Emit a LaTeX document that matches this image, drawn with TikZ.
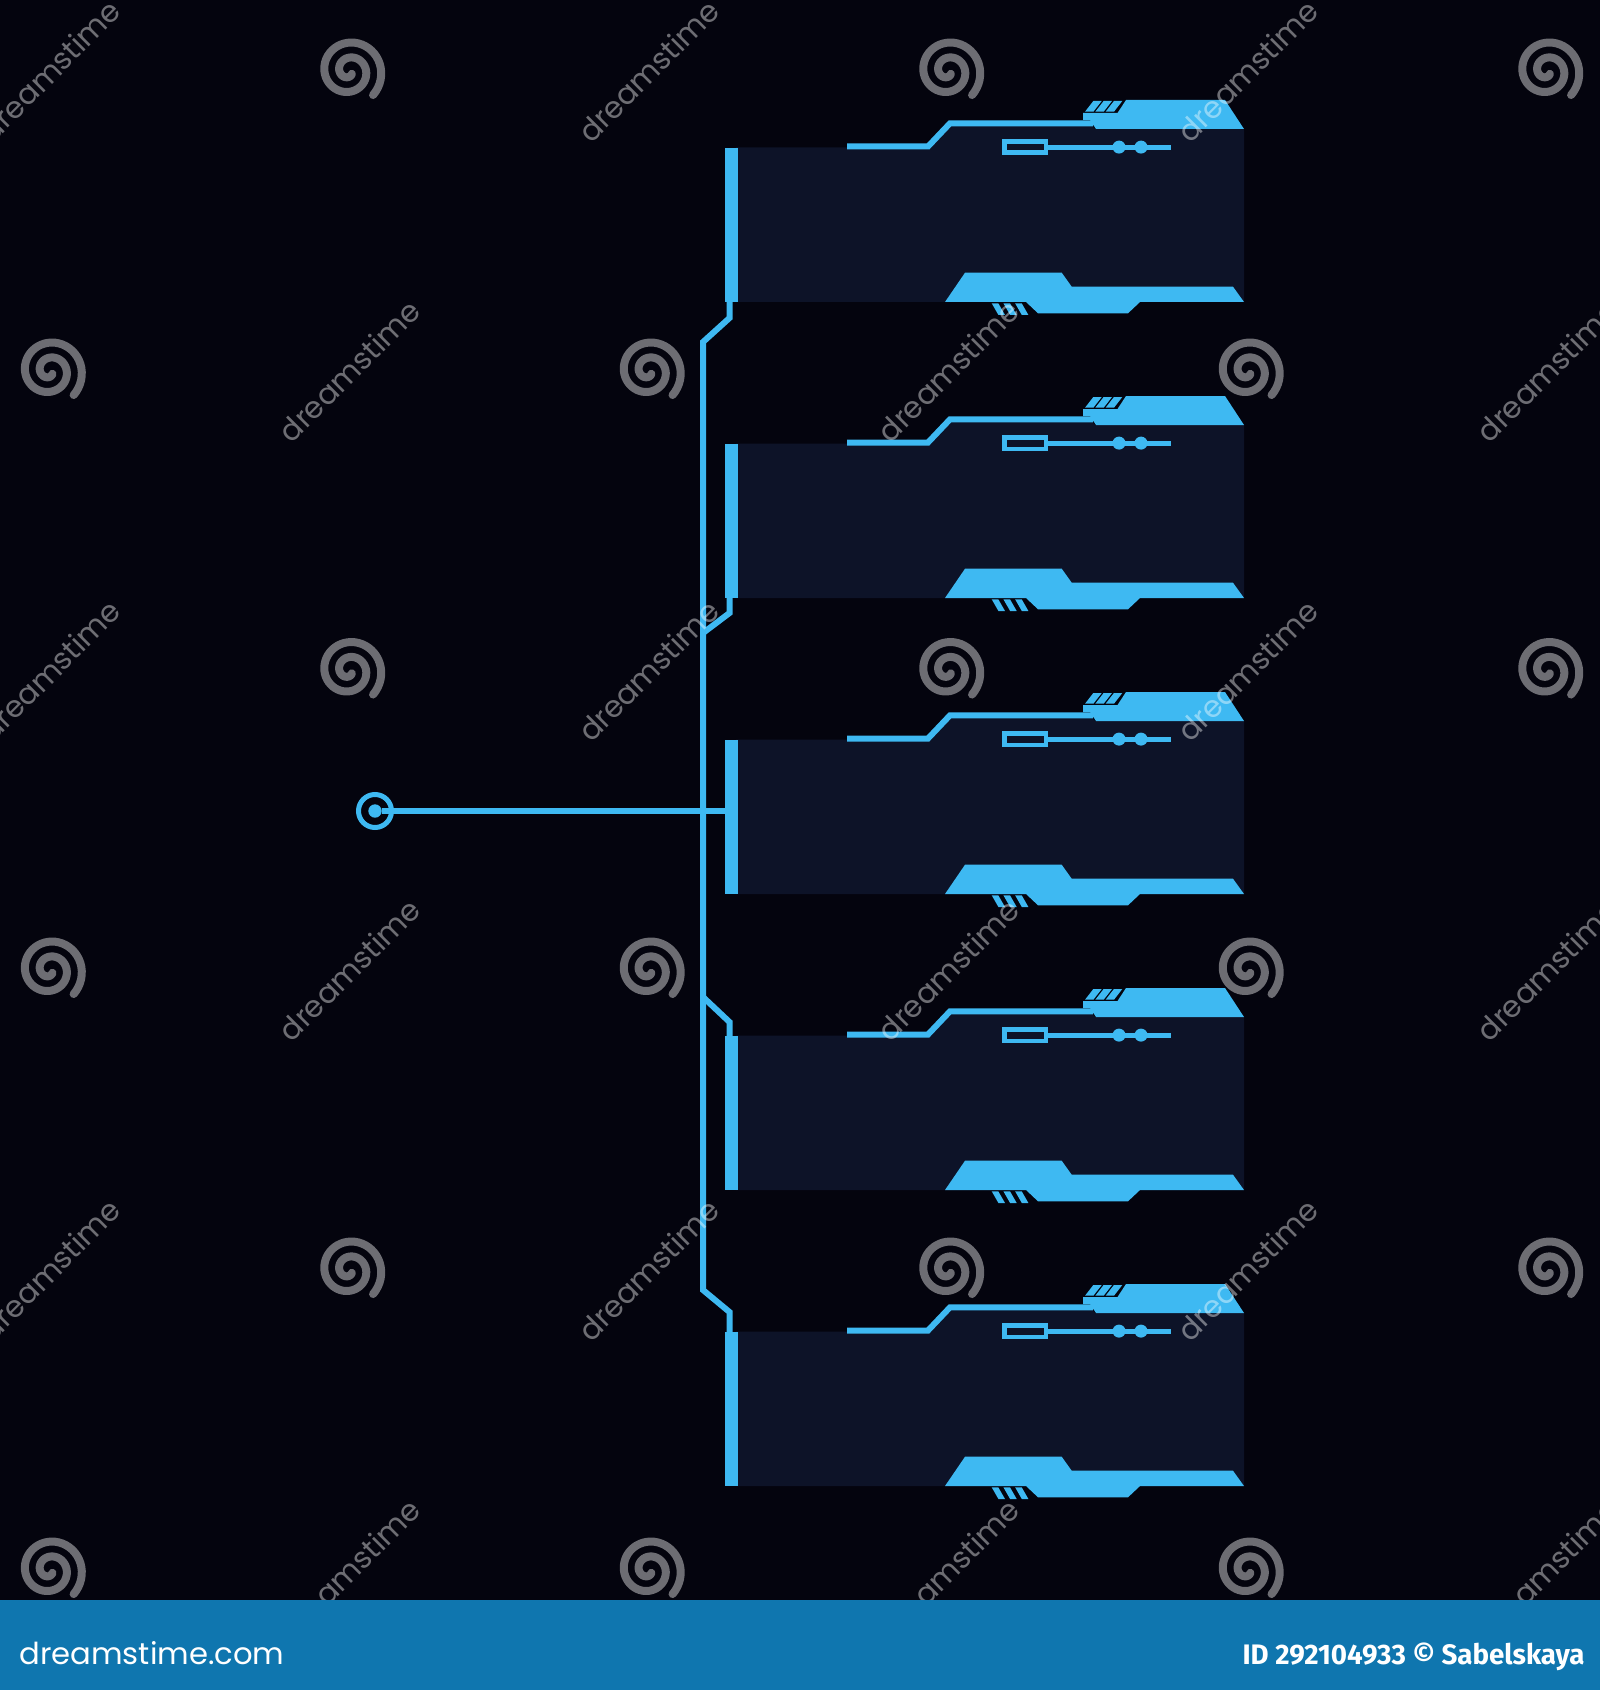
\documentclass[tikz,border=0pt]{standalone}
\usepackage{fontspec}
\setmainfont{Liberation Sans}
\newfontfamily\wmfont{Poppins}
\newfontfamily\idfont{Fira Sans}
\definecolor{bgc}{RGB}{4,4,14}
\definecolor{panelc}{RGB}{13,19,40}
\definecolor{hud}{RGB}{62,185,242}
\definecolor{footc}{RGB}{15,118,175}
\tikzset{
  hudfill/.style={fill=hud},
  hudline/.style={draw=hud, line width=3pt, line join=miter},
  hudthin/.style={draw=hud, line width=2.5pt},
  panelbg/.style={fill=panelc},
  hudbox/.style={draw=hud, line width=2.2pt, inner sep=0pt, minimum width=20.85pt, minimum height=5.6pt},
  huddot/.style={circle, fill=hud, inner sep=0pt, minimum size=6.5pt},
  wmspiral/.style={draw=white, draw opacity=0.42, line width=4pt, line cap=round},
  wmtext/.style={text=white, text opacity=0.42, font=\wmfont\fontsize{15}{15}\selectfont, rotate=45, inner sep=0pt},
}
\newcommand\hudpanel[2]{%
 \begin{scope}[shift={(0,#1)}]
  \fill[panelbg] (736,147.5) -- (928,147.5) -- (950,123.3) -- (1090,123.3) -- (1095,129) -- (1244,129) -- (1244,302) -- (736,302) -- cycle;
  \fill[hudfill] (725,148) rectangle (738,302);
  \coordinate (#2-top) at (729.5,148);
  \coordinate (#2-bot) at (729.5,302);
  \coordinate (#2-mid) at (725,219);
  % top line
  \coordinate (#2-l1) at (847,146.5);
  \coordinate (#2-l2) at (928,146.5);
  \coordinate (#2-l3) at (950,123.3);
  \coordinate (#2-l4) at (1093,123.3);
  \draw[hudline] (#2-l1) -- (#2-l2) -- (#2-l3) -- (#2-l4);
  % top tab
  \fill[hudfill] (1083,113) -- (1117.5,113) -- (1126,100) -- (1225,100) -- (1244,129) -- (1096,129) -- (1090,120) -- (1083,120) -- cycle;
  \foreach \k in {0,1,2} {\fill[hudfill] ({1085+10.3*\k},111.7) -- ({1093.3+10.3*\k},101) -- ({1101.7+10.3*\k},101) -- ({1093.4+10.3*\k},111.7) -- cycle;}
  % box, line and dots
  \node[hudbox] (#2-box) at (1025.2,147.1) {};
  \coordinate (#2-end) at (1171,147.1);
  \draw[hudthin] (#2-box.east) -- (#2-end);
  \node[huddot] (#2-d1) at (1119,147.1) {};
  \node[huddot] (#2-d2) at (1141,147.1) {};
  % bottom tab
  \fill[hudfill] (965,272.7) -- (1061.7,272.7) -- (1071.7,286.7) -- (1233,286.7) -- (1244,302) -- (1140,302) -- (1128,313.3) -- (1038,313.3) -- (1026,302) -- (945,302) -- cycle;
  \foreach \k in {0,1,2} {\fill[hudfill] ({991.7+11.7*\k},303.3) -- ({998.3+11.7*\k},303.3) -- ({1005+11.7*\k},315) -- ({998.4+11.7*\k},315) -- cycle;}
 \end{scope}}
\newcommand\wmspiralat[2]{%
  \draw[wmspiral] plot[domain=0:720, samples=100, smooth, variable=\t] ({#1+(4+\t/24)*cos(\t+45)}, {#2+(4+\t/24)*sin(\t+45)});}
\begin{document}
\begin{tikzpicture}[x=0.5pt, y=-0.5pt]
\useasboundingbox (0,0) rectangle (1600,1690);
\fill[bgc] (0,0) rectangle (1600,1690);
% panels
\hudpanel{0}{P1}
\hudpanel{296}{P2}
\hudpanel{592}{P3}
\hudpanel{888}{P4}
\hudpanel{1184}{P5}
% trunk
\coordinate (t1) at (729.5,318);
\coordinate (t2) at (703,342);
\coordinate (t3) at (703,1290);
\coordinate (t4) at (729.5,1312);
\draw[hudline] (P1-bot) -- (t1) -- (t2) -- (t3) -- (t4) -- (P5-top);
\coordinate (b2a) at (729.5,613);
\coordinate (b2b) at (703,633);
\draw[hudline] (P2-bot) -- (b2a) -- (b2b);
\coordinate (b4a) at (703,997);
\coordinate (b4b) at (729.5,1022);
\draw[hudline] (b4a) -- (b4b) -- (P4-top);
% hub
\node[circle, draw=hud, line width=2.5pt, minimum size=16.5pt, inner sep=0pt] (hub) at (375,811) {};
\node[circle, fill=hud, minimum size=6.7pt, inner sep=0pt] (hubdot) at (375,811) {};
\draw[hud, line width=2.9pt] (hubdot) -- (P3-mid);
% watermark
\foreach \i/\x in {0/49.6,1/349,2/648.5,3/948,4/1247.5,5/1547} {
  \foreach \j/\y in {0/71,1/371,2/670.5,3/970,4/1270,5/1570} {
    \pgfmathtruncatemacro\wmodd{mod(\i+\j,2)}
    \ifnum\wmodd=1
      \wmspiralat{\x}{\y}
    \else
      \node[wmtext] (wm\i\j) at (\x,\y) {dreamstime};
    \fi
  }
}
% footer
\fill[footc] (0,1600) rectangle (1600,1690);
\node[anchor=base west, inner sep=0pt, text=white] (site) at (19,1664) {\resizebox{132.5pt}{11.5pt}{\wmfont dreamstime.com}};
\node[anchor=base east, inner sep=0pt, text=white] (credit) at (1585,1664) {\resizebox{171pt}{10.8pt}{\idfont\bfseries ID 292104933 © Sabelskaya}};
\end{tikzpicture}
\end{document}
